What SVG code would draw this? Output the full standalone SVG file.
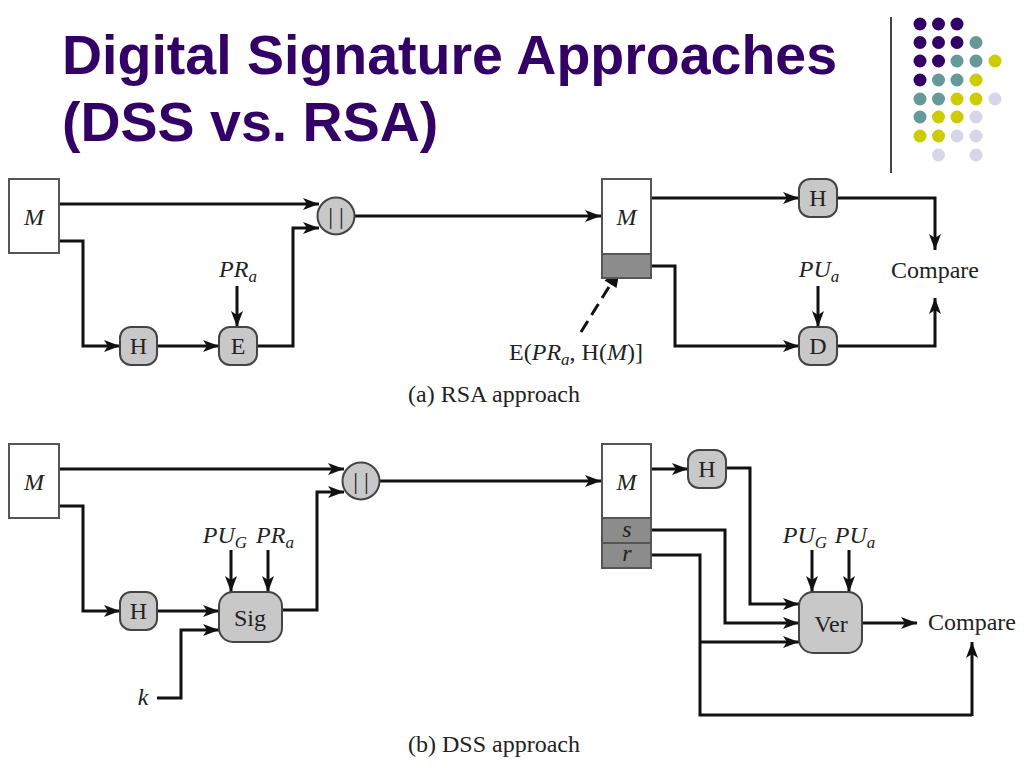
<svg xmlns="http://www.w3.org/2000/svg" width="1024" height="768" viewBox="0 0 1024 768">
<style>
.title{font:bold 55.500px "Liberation Sans",Arial,sans-serif;fill:#330066}
.t{font-family:"Liberation Serif","Times New Roman",serif;font-size:24px;fill:#222;text-anchor:middle}
.i{font-style:italic}
.sub{font-size:17px;font-style:italic}
.box{fill:#fff;stroke:#555;stroke-width:2}
.dark{fill:#8c8c8c;stroke:#555;stroke-width:2}
.fn{fill:#c8c8c8;stroke:#444;stroke-width:2}
.c{fill:none;stroke:#111;stroke-width:3;marker-end:url(#ah)}
.n{fill:none;stroke:#111;stroke-width:3}
.p{fill:#330066}.q{fill:#669999}.y{fill:#cccc00}.l{fill:#d6d6e8}
</style>
<defs>
<marker id="ah" markerUnits="userSpaceOnUse" markerWidth="18" markerHeight="16" refX="16" refY="8" orient="auto">
<path d="M0,2 L16,8 L0,14 L4,8 Z" fill="#111"/>
</marker>
</defs>
<rect width="1024" height="768" fill="#fff"/>
<text class="title" x="62" y="74">Digital Signature Approaches</text>
<text class="title" x="62" y="141">(DSS vs. RSA)</text>
<g id="decoration">
<rect x="890" y="17" width="2" height="156" fill="#444"/>
<circle class="p" cx="920" cy="24" r="6.5"/><circle class="p" cx="938.5" cy="24" r="6.5"/><circle class="p" cx="957" cy="24" r="6.5"/>
<circle class="p" cx="920" cy="42.500" r="6.5"/><circle class="p" cx="938.5" cy="42.500" r="6.500"/><circle class="p" cx="957" cy="42.500" r="6.5"/><circle class="q" cx="976" cy="42.500" r="6.5"/>
<circle class="p" cx="920" cy="61" r="6.5"/><circle class="p" cx="938.5" cy="61" r="6.5"/><circle class="q" cx="957" cy="61" r="6.5"/><circle class="q" cx="976" cy="61" r="6.5"/><circle class="y" cx="995" cy="61" r="6.5"/>
<circle class="p" cx="920" cy="80" r="6.5"/><circle class="q" cx="938.5" cy="80" r="6.5"/><circle class="q" cx="957" cy="80" r="6.5"/><circle class="y" cx="976" cy="80" r="6.5"/>
<circle class="q" cx="920" cy="99" r="6.5"/><circle class="q" cx="938.5" cy="99" r="6.5"/><circle class="y" cx="957" cy="99" r="6.5"/><circle class="y" cx="976" cy="99" r="6.5"/><circle class="l" cx="995" cy="99" r="6.5"/>
<circle class="q" cx="920" cy="117" r="6.5"/><circle class="y" cx="938.5" cy="117" r="6.5"/><circle class="y" cx="957" cy="117" r="6.5"/><circle class="l" cx="976" cy="117" r="6.5"/>
<circle class="y" cx="920" cy="136" r="6.5"/><circle class="y" cx="938.5" cy="136" r="6.5"/><circle class="l" cx="957" cy="136" r="6.5"/><circle class="l" cx="976" cy="136" r="6.5"/>
<circle class="l" cx="938.500" cy="155" r="6.5"/><circle class="l" cx="976" cy="155" r="6.5"/>
</g>
<g id="connectors">
<path class="c" d="M59,204H319"/>
<path class="c" d="M59,241H83V346H120"/>
<path class="c" d="M157,346H219"/>
<path class="c" d="M237,286V327"/>
<path class="c" d="M257,346H293V228H319"/>
<path class="c" d="M355,216H601"/>
<path class="c" d="M651,198H799"/>
<path class="c" d="M837,198H935V250"/>
<path class="c" d="M651,266H675V346H799"/>
<path class="c" d="M818,286V327"/>
<path class="c" d="M837,346H935V298"/>
<path class="n" stroke-dasharray="13 7" d="M581,332L612,282"/>
<path d="M620,269L616.500,288L604.500,280.500Z" fill="#111"/>
<path class="c" d="M59,469H344"/>
<path class="c" d="M59,506H83V611H120"/>
<path class="c" d="M157,611H219"/>
<path class="c" d="M157,698H181V630H219"/>
<path class="c" d="M231,550V592"/>
<path class="c" d="M268,550V592"/>
<path class="c" d="M282,610H317V492H344"/>
<path class="c" d="M380,481H601"/>
<path class="c" d="M651,469H688"/>
<path class="c" d="M726,468H750V604H799"/>
<path class="c" d="M651,530H725V623H799"/>
<path class="n" d="M651,555H700V715H972"/>
<path class="c" d="M972,716V642"/>
<path class="c" d="M700,642H799"/>
<path class="c" d="M812,550V592"/>
<path class="c" d="M849,550V592"/>
<path class="c" d="M862,623H917"/>
</g>
<g id="rsa-m-send"><rect class="box" x="9" y="179" width="50" height="74"/><text class="t i" x="34" y="225">M</text></g>
<g id="rsa-concat"><circle class="fn" cx="336" cy="216" r="18.500"/><text class="t" x="336" y="224">| |</text></g>
<g id="rsa-h-send"><rect class="fn" x="120" y="327" width="37" height="38" rx="11"/><text class="t" x="138.500" y="354">H</text></g>
<g id="rsa-e"><rect class="fn" x="219" y="327" width="38" height="38" rx="11"/><text class="t" x="238" y="354">E</text></g>
<g id="rsa-pra"><text class="t i" x="238" y="277">PR<tspan class="sub" dy="5">a</tspan></text></g>
<g id="rsa-m-recv"><rect class="box" x="602" y="179" width="49" height="75"/><rect class="dark" x="602" y="254" width="49" height="24"/><text class="t i" x="626.500" y="225">M</text></g>
<g id="rsa-h-recv"><rect class="fn" x="799" y="179" width="38" height="38" rx="11"/><text class="t" x="818" y="206">H</text></g>
<g id="rsa-d"><rect class="fn" x="799" y="327" width="38" height="38" rx="11"/><text class="t" x="818" y="354">D</text></g>
<g id="rsa-pua"><text class="t i" x="819" y="277">PU<tspan class="sub" dy="5">a</tspan></text></g>
<g id="rsa-compare"><text class="t" x="935" y="278">Compare</text></g>
<g id="rsa-sig-label"><text class="t" x="576" y="360">E(<tspan class="i">PR</tspan><tspan class="sub" dy="5">a</tspan><tspan dy="-5">, H(</tspan><tspan class="i">M</tspan>)]</text></g>
<g id="rsa-caption"><text class="t" x="494" y="402">(a) RSA approach</text></g>
<g id="dss-m-send"><rect class="box" x="9" y="444" width="50" height="74"/><text class="t i" x="34" y="490">M</text></g>
<g id="dss-concat"><circle class="fn" cx="361" cy="481" r="18.500"/><text class="t" x="361" y="489">| |</text></g>
<g id="dss-h-send"><rect class="fn" x="120" y="592" width="37" height="38" rx="11"/><text class="t" x="138.500" y="619">H</text></g>
<g id="dss-sig"><rect class="fn" x="219" y="592" width="63" height="50" rx="14"/><text class="t" x="250" y="626">Sig</text></g>
<g id="dss-pug-pra"><text class="t i" x="225" y="543">PU<tspan class="sub" dy="5">G</tspan></text><text class="t i" x="275" y="543">PR<tspan class="sub" dy="5">a</tspan></text></g>
<g id="dss-k"><text class="t i" x="143" y="705">k</text></g>
<g id="dss-m-recv"><rect class="box" x="602" y="444" width="49" height="74"/><rect class="dark" x="602" y="518" width="49" height="25"/><rect class="dark" x="602" y="543" width="49" height="25"/><text class="t i" x="626.500" y="490">M</text><text class="t i" x="627" y="537">s</text><text class="t i" x="627" y="561">r</text></g>
<g id="dss-h-recv"><rect class="fn" x="688" y="450" width="38" height="38" rx="11"/><text class="t" x="707" y="477">H</text></g>
<g id="dss-ver"><rect class="fn" x="799" y="592" width="63" height="61" rx="14"/><text class="t" x="831" y="632">Ver</text></g>
<g id="dss-pug-pua"><text class="t i" x="805" y="543">PU<tspan class="sub" dy="5">G</tspan></text><text class="t i" x="855" y="543">PU<tspan class="sub" dy="5">a</tspan></text></g>
<g id="dss-compare"><text class="t" x="972" y="630">Compare</text></g>
<g id="dss-caption"><text class="t" x="494" y="752">(b) DSS approach</text></g>
</svg>
